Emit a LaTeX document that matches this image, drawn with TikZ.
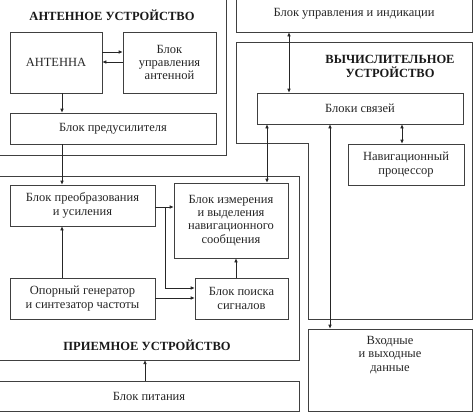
\documentclass[tikz,border=0pt]{standalone}
\usepackage{fontspec}
\setmainfont{Liberation Serif}
\usetikzlibrary{arrows.meta}

\tikzset{
  blok/.style={draw=black!75, line width=0.6pt, align=center, inner sep=1pt, text=black!85, font=\fontsize{12.5}{13.3}\selectfont},
  ustr/.style={draw=black!75, line width=0.6pt},
  zagl/.style={align=center, text=black!90, font=\bfseries\fontsize{12.5}{13.3}\selectfont},
  svyaz/.style={draw=black!85, line width=0.6pt, ->},
  dvusvyaz/.style={draw=black!85, line width=0.6pt, <->}
}

\begin{document}
\begin{tikzpicture}[x=1pt,y=-1pt,>={Latex[length=4pt,width=3.5pt]}]

\clip (0,0) rectangle (474,413);

%%%% antennoe ustrojstvo
\draw[ustr] (-5,-5) rectangle (226,155);
\node[zagl] (antzag) at (112,15) {АНТЕННОЕ УСТРОЙСТВО};

\node[blok, minimum width=92pt, minimum height=61pt] (ant) at (56,62.5) {АНТЕННА};
\node[blok, minimum width=93pt, minimum height=61pt] (antctl) at (169.5,62.5) {Блок\\управления\\антенной};
\node[blok, minimum width=206pt, minimum height=31pt] (preamp) at (113,128.5) {Блок предусилителя};

\draw[svyaz] (ant.east |- 0,52) -- (antctl.west |- 0,52);
\draw[svyaz] (antctl.west |- 0,62) -- (ant.east |- 0,62);
\draw[svyaz] (ant.south -| 62,0) -- (preamp.north -| 62,0);

%%%% blok upravleniya i indikacii
\node[blok, minimum width=236pt, minimum height=36pt] (ind) at (354,14) {Блок управления и индикации};

%%%% vychislitelnoe ustrojstvo
\draw[ustr] (236,42) -- (472,42) -- (472,319) -- (308,319) -- (308,143) -- (236,143) -- cycle;
\node[zagl] (vychzag) at (390,66.5) {ВЫЧИСЛИТЕЛЬНОЕ\\УСТРОЙСТВО};

\node[blok, minimum width=206pt, minimum height=31pt] (links) at (360,108.5) {Блоки связей};
\node[blok, minimum width=116pt, minimum height=41pt] (navproc) at (406,164.5) {Навигационный\\процессор};

%%%% priemnoe ustrojstvo
\draw[ustr] (-5,176) rectangle (299,360);
\node[zagl] (priemzag) at (147,345) {ПРИЕМНОЕ УСТРОЙСТВО};
\coordinate (rcvbot) at (145,360);

\node[blok, minimum width=145pt, minimum height=41pt] (conv) at (82.5,205.5) {Блок преобразования\\и усиления};
\node[blok, minimum width=114pt, minimum height=75pt] (meas) at (231,220.5) {Блок измерения\\и выделения\\навигационного\\сообщения};
\node[blok, minimum width=145pt, minimum height=41pt] (osc) at (82.5,298.5) {Опорный генератор\\и синтезатор частоты};
\node[blok, minimum width=93pt, minimum height=41pt] (search) at (241.5,298.5) {Блок поиска\\сигналов};

\coordinate (razv) at (165,207);

\draw[svyaz] (preamp.south -| 62,0) -- (conv.north -| 62,0);
\draw[svyaz] (osc.north -| 62,0) -- (conv.south -| 62,0);
\draw[svyaz] (conv.east |- razv) -- (meas.west |- razv);
\draw[svyaz] (razv) |- (search.west |- 0,288);
\draw[svyaz] (osc.east |- 0,298) -- (search.west |- 0,298);
\draw[svyaz] (search.north -| 236,0) -- (meas.south -| 236,0);

%%%% blok pitaniya, vhodnye dannye
\node[blok, minimum width=300pt, minimum height=30pt] (power) at (149,396) {Блок питания};
\draw[svyaz] (power.north -| rcvbot) -- (rcvbot);

\node[blok, minimum width=164pt, minimum height=82pt] (io) at (390,370) {};
\node[align=center, text=black!85, font=\fontsize{12.5}{13.3}\selectfont] (iotxt) at (390,355) {Входные\\и выходные\\данные};

%% dvustoronnie svyazi
\draw[dvusvyaz] (ind.south -| 289,0) -- (links.north -| 289,0);
\draw[dvusvyaz] (links.south -| 267,0) -- (meas.north -| 267,0);
\draw[dvusvyaz] (links.south -| 402,0) -- (navproc.north -| 402,0);
\draw[dvusvyaz] (links.south -| 330,0) -- (io.north -| 330,0);

\end{tikzpicture}
\end{document}
